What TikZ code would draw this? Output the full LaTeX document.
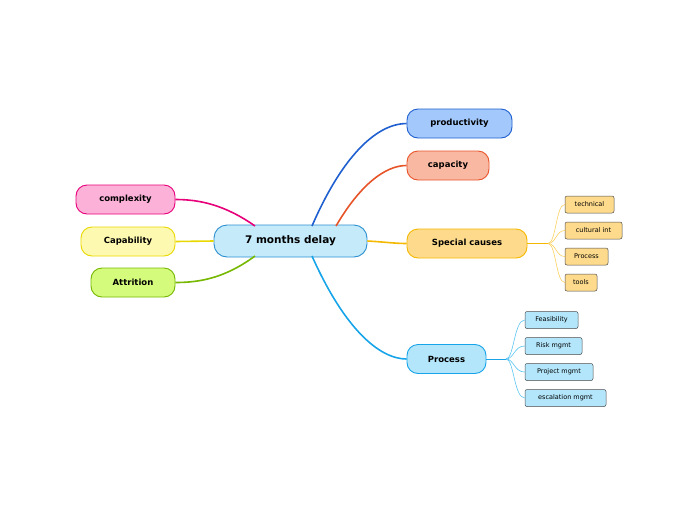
\documentclass[tikz,border=0pt]{standalone}
\usepackage{fontspec}
\setmainfont{DejaVu Sans}
\definecolor{cB}{HTML}{2B8FD0}\definecolor{cBf}{HTML}{C5EBFB}
\definecolor{pB}{HTML}{1F5FD0}\definecolor{pF}{HTML}{A3C8FB}
\definecolor{aB}{HTML}{E8542A}\definecolor{aF}{HTML}{F8B8A2}
\definecolor{sB}{HTML}{F5B800}\definecolor{sF}{HTML}{FEDB8C}
\definecolor{rB}{HTML}{17A4E8}\definecolor{rF}{HTML}{B3E6FB}
\definecolor{xB}{HTML}{E8007A}\definecolor{xF}{HTML}{FBB1D8}
\definecolor{yB}{HTML}{E8D800}\definecolor{yF}{HTML}{FEF9B0}
\definecolor{gB}{HTML}{76B800}\definecolor{gF}{HTML}{D4FB7C}
\definecolor{sT}{HTML}{FBD060}\definecolor{rT}{HTML}{5CC4F0}
\begin{document}
\begin{tikzpicture}[x=1pt,y=-1pt,
 main/.style={draw, line width=0.9pt, rounded corners=11pt, minimum height=29pt, inner sep=0pt, font=\fontsize{8.5}{10}\selectfont\bfseries},
 small/.style={draw=black!70, line width=0.5pt, rounded corners=2pt, minimum height=17pt, inner sep=0pt, font=\fontsize{6.5}{8}\selectfont},
 br/.style={line width=1.6pt},
 tw/.style={line width=0.6pt}]
\useasboundingbox (0,0) rectangle (697,520);
\node[main, fill=cBf, draw=cB, minimum width=153pt, minimum height=32pt, rounded corners=13pt, font=\fontsize{10.5}{12}\selectfont\bfseries] (c) at (290.5,241) {7 months delay};
\node[main, fill=pF, draw=pB, minimum width=105pt] (p) at (459.5,123.5) {productivity};
\node[main, fill=aF, draw=aB, minimum width=82pt] (ca) at (448,165.5) {capacity};
\node[main, fill=sF, draw=sB, minimum width=120pt] (s) at (467,243.5) {Special causes};
\node[main, fill=rF, draw=rB, minimum width=79pt] (pr) at (446.5,359) {Process};
\node[main, fill=xF, draw=xB, minimum width=99pt] (cx) at (125.5,199.5) {complexity};
\node[main, fill=yF, draw=yB, minimum width=94pt] (cp) at (128,241.5) {Capability};
\node[main, fill=gF, draw=gB, minimum width=84pt] (at) at (133,282.5) {Attrition};
\foreach \n/\x/\y/\w/\t in {s1/589.5/204.5/49/technical, s2/593.5/230.5/57/cultural int, s3/586.5/256.5/43/Process, s4/581/282.5/32/tools}
  \node[small, fill=sF, minimum width=\w pt] (\n) at (\x,\y) {\t};
\foreach \n/\x/\y/\w/\t in {q1/551.5/320/53/Feasibility, q2/553.5/346/57/Risk mgmt, q3/559/372/68/Project mgmt, q4/565.5/398/81/escalation mgmt}
  \node[small, fill=rF, minimum width=\w pt] (\n) at (\x,\y) {\t};
\coordinate (c1) at (312,226); \coordinate (c2) at (336,226); \coordinate (c3) at (312,256);
\coordinate (l1) at (255,226); \coordinate (l3) at (255,256);
\draw[br, draw=pB] (c1) .. controls (345,150) and (380,123.5) .. (p.west);
\draw[br, draw=aB] (c2) .. controls (360,185) and (385,165.5) .. (ca.west);
\draw[br, draw=sB] (c.east) .. controls (385,242) and (395,243.5) .. (s.west);
\draw[br, draw=rB] (c3) .. controls (345,330) and (380,359) .. (pr.west);
\draw[br, draw=xB] (l1) .. controls (225,205) and (200,199.5) .. (cx.east);
\draw[br, draw=yB] (c.west) -- (cp.east);
\draw[br, draw=gB] (l3) .. controls (225,278) and (200,282.5) .. (at.east);
\coordinate (sj) at (548,243.5); \coordinate (pj) at (506,359);
\coordinate (sx) at (556,0); \coordinate (px) at (514,0);
\draw[line width=1.2pt, draw=sB] (s.east) -- (sj);
\draw[line width=0.8pt, draw=rB] (pr.east) -- (pj);
\foreach \n in {s1,s2,s3,s4}
  \draw[tw, draw=sT] (sj) .. controls (556,243.5) and (sx |- \n.west) .. (\n.west);
\foreach \n in {q1,q2,q3,q4}
  \draw[tw, draw=rT] (pj) .. controls (514,359) and (px |- \n.west) .. (\n.west);
\end{tikzpicture}
\end{document}
